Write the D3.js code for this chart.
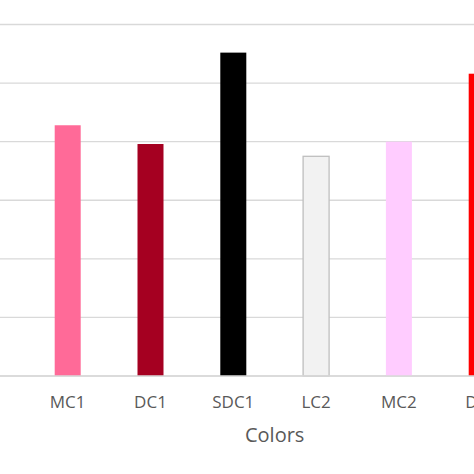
<!DOCTYPE html>
<html>
<head>
<meta charset="utf-8">
<script src="https://cdn.jsdelivr.net/npm/d3@7"></script>
<style>
  html, body { margin: 0; padding: 0; background: #fff; }
  svg { display: block; }
</style>
</head>
<body>
<svg id="chart"></svg>
<script>
// chart is a crop of a wider figure: the last bar (DC2) runs off the right edge
const categories = ['MC1', 'DC1', 'SDC1', 'LC2', 'MC2', 'DC2'];
const values = [42.8, 39.6, 55.2, 37.5, 40.0, 51.6];
const barColours = ['#ff6a98', '#a50021', '#000000', '#f2f2f2', '#ffccff', '#ff0000'];
const yTicks = [0, 10, 20, 30, 40, 50, 60];
const xTitle = 'Colors';

const width = 474;
const height = 474;

const sel = d3.select('#chart').attr('width', width).attr('height', height);

const xScale = d3
  .scaleBand()
  .domain(categories)
  .range([26.3, 523.1])
  .paddingInner(0.686)
  .paddingOuter(0.343);
const yScale = d3
  .scaleLinear()
  .domain([0, 60])
  .range([376, 24.5]);

// gridlines
sel
  .append('g')
  .selectAll('line')
  .data(yTicks)
  .enter()
  .append('line')
  .attr('x1', 0)
  .attr('x2', width)
  .attr('y1', d => yScale(d))
  .attr('y2', d => yScale(d))
  .attr('stroke', '#d9d9d9')
  .attr('stroke-width', 1.3);

// bars
const data = categories.map((c, i) => ({ c, v: values[i], fill: barColours[i] }));
sel
  .append('g')
  .selectAll('rect')
  .data(data)
  .enter()
  .append('rect')
  .attr('x', d => xScale(d.c))
  .attr('y', d => yScale(d.v))
  .attr('width', xScale.bandwidth())
  .attr('height', d => yScale(0) - yScale(d.v))
  .attr('fill', d => d.fill)
  .attr('stroke', d => (d.c === 'LC2' ? '#bfbfbf' : 'none'))
  .attr('stroke-width', 1.3);

// baseline
sel
  .append('line')
  .attr('x1', 0)
  .attr('x2', width)
  .attr('y1', yScale(0))
  .attr('y2', yScale(0))
  .attr('stroke', '#d9d9d9')
  .attr('stroke-width', 1.3);

// category labels
sel
  .append('g')
  .selectAll('text')
  .data(categories)
  .enter()
  .append('text')
  .attr('x', d => xScale(d) + xScale.bandwidth() / 2)
  .attr('y', 408)
  .attr('text-anchor', 'middle')
  .attr('font-family', 'Open Sans, sans-serif')
  .attr('font-size', 17)
  .attr('fill', '#595959')
  .text(d => d);

// axis title, centred under the plot area
const [r0, r1] = xScale.range();
sel
  .append('text')
  .attr('x', (r0 + r1) / 2)
  .attr('y', 442)
  .attr('text-anchor', 'middle')
  .attr('font-family', 'Open Sans, sans-serif')
  .attr('font-size', 20)
  .attr('fill', '#595959')
  .text(xTitle);
</script>
</body>
</html>
